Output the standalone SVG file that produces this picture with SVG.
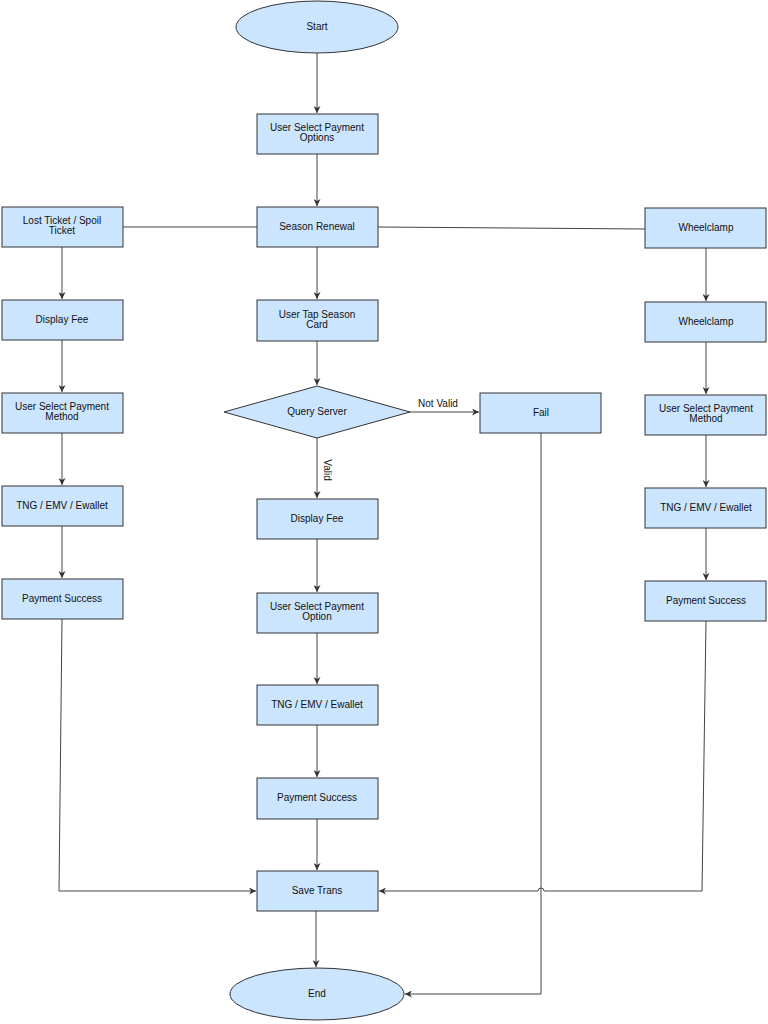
<svg xmlns="http://www.w3.org/2000/svg" width="768" height="1024" viewBox="0 0 768 1024">
<defs>
<marker id="a" viewBox="0 0 10 10" refX="10" refY="5" markerWidth="7" markerHeight="7" orient="auto"><path d="M0,0 L10,5 L0,10 L3,5 Z" fill="#333"/></marker>
<style>
.n{fill:#cce5ff;stroke:#333;stroke-width:1}
.t{font-family:"Liberation Sans",Arial,sans-serif;font-size:10px;fill:#111;text-anchor:middle}
.c{fill:none;stroke:#444;stroke-width:1}
</style>
</defs>
<rect width="768" height="1024" fill="#fff"/>
<g id="connectors">
<path class="c" d="M317,53 V113" marker-end="url(#a)"/>
<path class="c" d="M317,154 V206" marker-end="url(#a)"/>
<path class="c" d="M317,247 V299" marker-end="url(#a)"/>
<path class="c" d="M317,341 V385" marker-end="url(#a)"/>
<path class="c" d="M317,438 V498" marker-end="url(#a)"/>
<path class="c" d="M317,539 V592" marker-end="url(#a)"/>
<path class="c" d="M317,633 V684" marker-end="url(#a)"/>
<path class="c" d="M317,725 V777" marker-end="url(#a)"/>
<path class="c" d="M317,819 V870" marker-end="url(#a)"/>
<path class="c" d="M316,911 V967" marker-end="url(#a)"/>
<path class="c" d="M410,412 H479" marker-end="url(#a)"/>
<path class="c" d="M257,227 H123"/>
<path class="c" d="M378,227 L645,229"/>
<path class="c" d="M62,247 V299" marker-end="url(#a)"/>
<path class="c" d="M62,340 V392" marker-end="url(#a)"/>
<path class="c" d="M62,433 V485" marker-end="url(#a)"/>
<path class="c" d="M62,526 V578" marker-end="url(#a)"/>
<path class="c" d="M706,248 V301" marker-end="url(#a)"/>
<path class="c" d="M706,342 V394" marker-end="url(#a)"/>
<path class="c" d="M706,435 V487" marker-end="url(#a)"/>
<path class="c" d="M706,528 V580" marker-end="url(#a)"/>
<path class="c" d="M62,619 L59,891 H256" marker-end="url(#a)"/>
<path class="c" d="M706,621 L702,891 H544 A3,3 0 0 0 538,891 H379" marker-end="url(#a)"/>
<path class="c" d="M541,433 V994 H405" marker-end="url(#a)"/>
<text class="t" x="438" y="407">Not Valid</text>
<text class="t" transform="translate(324,470) rotate(90)">Valid</text>
</g>
<g id="start"><ellipse class="n" cx="317" cy="27" rx="81" ry="26"/><text class="t" x="317" y="30">Start</text></g>
<g id="usp"><rect class="n" x="257" y="114" width="121" height="40"/><text class="t" x="317" y="131">User Select Payment</text><text class="t" x="317" y="141">Options</text></g>
<g id="season"><rect class="n" x="257" y="207" width="121" height="40"/><text class="t" x="317" y="230">Season Renewal</text></g>
<g id="tap"><rect class="n" x="257" y="300" width="121" height="41"/><text class="t" x="317" y="318">User Tap Season</text><text class="t" x="317" y="328">Card</text></g>
<g id="query"><path class="n" d="M224,412 L317,386 L410,412 L317,438 Z"/><text class="t" x="317" y="415">Query Server</text></g>
<g id="fail"><rect class="n" x="480" y="393" width="121" height="40"/><text class="t" x="541" y="416">Fail</text></g>
<g id="fee"><rect class="n" x="257" y="499" width="121" height="40"/><text class="t" x="317" y="522">Display Fee</text></g>
<g id="uspo"><rect class="n" x="257" y="593" width="121" height="40"/><text class="t" x="317" y="610">User Select Payment</text><text class="t" x="317" y="620">Option</text></g>
<g id="tng"><rect class="n" x="257" y="685" width="121" height="40"/><text class="t" x="317" y="708">TNG / EMV / Ewallet</text></g>
<g id="ps"><rect class="n" x="257" y="778" width="121" height="41"/><text class="t" x="317" y="801">Payment Success</text></g>
<g id="save"><rect class="n" x="257" y="871" width="121" height="40"/><text class="t" x="317" y="894">Save Trans</text></g>
<g id="end"><ellipse class="n" cx="317" cy="994" rx="87" ry="26"/><text class="t" x="317" y="997">End</text></g>
<g id="lost"><rect class="n" x="2" y="207" width="121" height="40"/><text class="t" x="62" y="224">Lost Ticket / Spoil</text><text class="t" x="62" y="234">Ticket</text></g>
<g id="lfee"><rect class="n" x="2" y="300" width="121" height="40"/><text class="t" x="62" y="323">Display Fee</text></g>
<g id="lusp"><rect class="n" x="2" y="393" width="121" height="40"/><text class="t" x="62" y="410">User Select Payment</text><text class="t" x="62" y="420">Method</text></g>
<g id="ltng"><rect class="n" x="2" y="486" width="121" height="40"/><text class="t" x="62" y="509">TNG / EMV / Ewallet</text></g>
<g id="lps"><rect class="n" x="2" y="579" width="121" height="40"/><text class="t" x="62" y="602">Payment Success</text></g>
<g id="wc1"><rect class="n" x="645" y="208" width="121" height="40"/><text class="t" x="706" y="231">Wheelclamp</text></g>
<g id="wc2"><rect class="n" x="645" y="302" width="121" height="40"/><text class="t" x="706" y="325">Wheelclamp</text></g>
<g id="rusp"><rect class="n" x="645" y="395" width="121" height="40"/><text class="t" x="706" y="412">User Select Payment</text><text class="t" x="706" y="422">Method</text></g>
<g id="rtng"><rect class="n" x="645" y="488" width="121" height="40"/><text class="t" x="706" y="511">TNG / EMV / Ewallet</text></g>
<g id="rps"><rect class="n" x="645" y="581" width="121" height="40"/><text class="t" x="706" y="604">Payment Success</text></g>
</svg>
